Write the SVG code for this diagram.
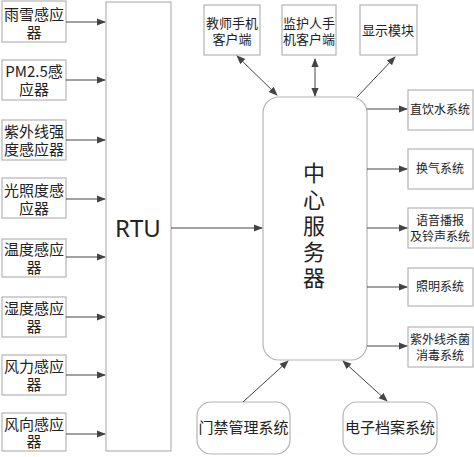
<svg xmlns="http://www.w3.org/2000/svg" width="474" height="457" viewBox="0 0 474 457">
<style>
.box{fill:#fff;stroke:#b4b4b4;stroke-width:1.2}
.t{font-family:"Noto Sans CJK SC","Noto Sans",sans-serif;fill:#222;text-anchor:middle}
.s15{font-size:15px}
.s13{font-size:13px}
.s12{font-size:12px}
.ln{stroke:#444;stroke-width:1;fill:none}
</style>
<defs>
<marker id="ah" viewBox="0 0 10 10" refX="9" refY="5" markerWidth="9" markerHeight="9" markerUnits="userSpaceOnUse" orient="auto-start-reverse">
<path d="M0,1 L10,5 L0,9 Z" fill="#444"/>
</marker>
</defs>
<rect width="474" height="457" fill="#fff"/>
<g id="sensor1"><rect class="box" x="2" y="1" width="64" height="41"/><text class="t s15" x="34" y="20">雨雪感应</text><text class="t s15" x="34" y="38">器</text></g>
<g id="sensor2"><rect class="box" x="2" y="60" width="64" height="40"/><text class="t s15" x="34" y="77">PM2.5感</text><text class="t s15" x="34" y="95">应器</text></g>
<g id="sensor3"><rect class="box" x="2" y="120" width="64" height="40"/><text class="t s15" x="34" y="137">紫外线强</text><text class="t s15" x="34" y="155">度感应器</text></g>
<g id="sensor4"><rect class="box" x="2" y="178" width="64" height="40"/><text class="t s15" x="34" y="196">光照度感</text><text class="t s15" x="34" y="214">应器</text></g>
<g id="sensor5"><rect class="box" x="2" y="239" width="64" height="38"/><text class="t s15" x="34" y="255">温度感应</text><text class="t s15" x="34" y="273">器</text></g>
<g id="sensor6"><rect class="box" x="2" y="297" width="64" height="40"/><text class="t s15" x="34" y="314">湿度感应</text><text class="t s15" x="34" y="332">器</text></g>
<g id="sensor7"><rect class="box" x="2" y="355" width="64" height="40"/><text class="t s15" x="34" y="372">风力感应</text><text class="t s15" x="34" y="390">器</text></g>
<g id="sensor8"><rect class="box" x="2" y="413" width="64" height="38"/><text class="t s15" x="34" y="430">风向感应</text><text class="t s15" x="34" y="447">器</text></g>
<g id="rtu"><rect class="box" x="106" y="2" width="65" height="449"/><text x="138" y="237" style="font-family:'Noto Sans','Open Sans',sans-serif;font-size:24px;fill:#222;text-anchor:middle">RTU</text></g>
<g id="server"><rect class="box" x="263" y="97" width="104" height="263" rx="16" ry="16"/>
<text class="t" style="font-size:22px" x="314" y="181">中</text>
<text class="t" style="font-size:22px" x="314" y="208">心</text>
<text class="t" style="font-size:22px" x="314" y="234">服</text>
<text class="t" style="font-size:22px" x="314" y="260">务</text>
<text class="t" style="font-size:22px" x="314" y="286">器</text></g>
<g id="teacher"><rect class="box" x="204" y="5" width="56" height="50"/><text class="t s13" x="232" y="28">教师手机</text><text class="t s13" x="232" y="44">客户端</text></g>
<g id="guardian"><rect class="box" x="282" y="5" width="54" height="50"/><text class="t s13" x="309" y="28">监护人手</text><text class="t s13" x="309" y="44">机客户端</text></g>
<g id="display"><rect class="box" x="360" y="5" width="57" height="50"/><text class="t s13" x="388" y="35">显示模块</text></g>
<g id="water"><rect class="box" x="408" y="90" width="65" height="40"/><text class="t s12" x="440" y="114">直饮水系统</text></g>
<g id="vent"><rect class="box" x="408" y="149" width="65" height="40"/><text class="t s12" x="440" y="173">换气系统</text></g>
<g id="voice"><rect class="box" x="408" y="208" width="65" height="40"/><text class="t s12" x="440" y="225">语音播报</text><text class="t s12" x="440" y="241">及铃声系统</text></g>
<g id="light"><rect class="box" x="408" y="268" width="65" height="38"/><text class="t s12" x="440" y="291">照明系统</text></g>
<g id="uv"><rect class="box" x="408" y="327" width="65" height="40"/><text class="t s12" x="440" y="344">紫外线杀菌</text><text class="t s12" x="440" y="360">消毒系统</text></g>
<g id="access"><rect class="box" x="197" y="402" width="93" height="52" rx="14" ry="14"/><text class="t s15" x="243.5" y="433">门禁管理系统</text></g>
<g id="archive"><rect class="box" x="343" y="402" width="94" height="52" rx="14" ry="14"/><text class="t s15" x="390" y="433">电子档案系统</text></g>
<g id="connectors">
<line class="ln" x1="66" y1="22" x2="105" y2="22" marker-end="url(#ah)"/>
<line class="ln" x1="66" y1="80" x2="105" y2="80" marker-end="url(#ah)"/>
<line class="ln" x1="66" y1="140" x2="105" y2="140" marker-end="url(#ah)"/>
<line class="ln" x1="66" y1="199" x2="105" y2="199" marker-end="url(#ah)"/>
<line class="ln" x1="66" y1="257" x2="105" y2="257" marker-end="url(#ah)"/>
<line class="ln" x1="66" y1="317" x2="105" y2="317" marker-end="url(#ah)"/>
<line class="ln" x1="66" y1="375" x2="105" y2="375" marker-end="url(#ah)"/>
<line class="ln" x1="66" y1="434" x2="105" y2="434" marker-end="url(#ah)"/>
<line class="ln" x1="171" y1="228" x2="262" y2="228" marker-end="url(#ah)"/>
<line class="ln" x1="237" y1="56" x2="277" y2="95" marker-start="url(#ah)" marker-end="url(#ah)"/>
<line class="ln" x1="315" y1="59" x2="315" y2="96" marker-start="url(#ah)" marker-end="url(#ah)"/>
<line class="ln" x1="357" y1="97" x2="395" y2="57" marker-end="url(#ah)"/>
<line class="ln" x1="367" y1="109" x2="407" y2="109" marker-end="url(#ah)"/>
<line class="ln" x1="367" y1="169" x2="407" y2="169" marker-end="url(#ah)"/>
<line class="ln" x1="367" y1="228" x2="407" y2="228" marker-end="url(#ah)"/>
<line class="ln" x1="367" y1="287" x2="407" y2="287" marker-end="url(#ah)"/>
<line class="ln" x1="367" y1="346" x2="407" y2="346" marker-end="url(#ah)"/>
<line class="ln" x1="243" y1="402" x2="288" y2="361" marker-end="url(#ah)"/>
<line class="ln" x1="343" y1="361" x2="387" y2="401" marker-start="url(#ah)" marker-end="url(#ah)"/>
</g>
</svg>
